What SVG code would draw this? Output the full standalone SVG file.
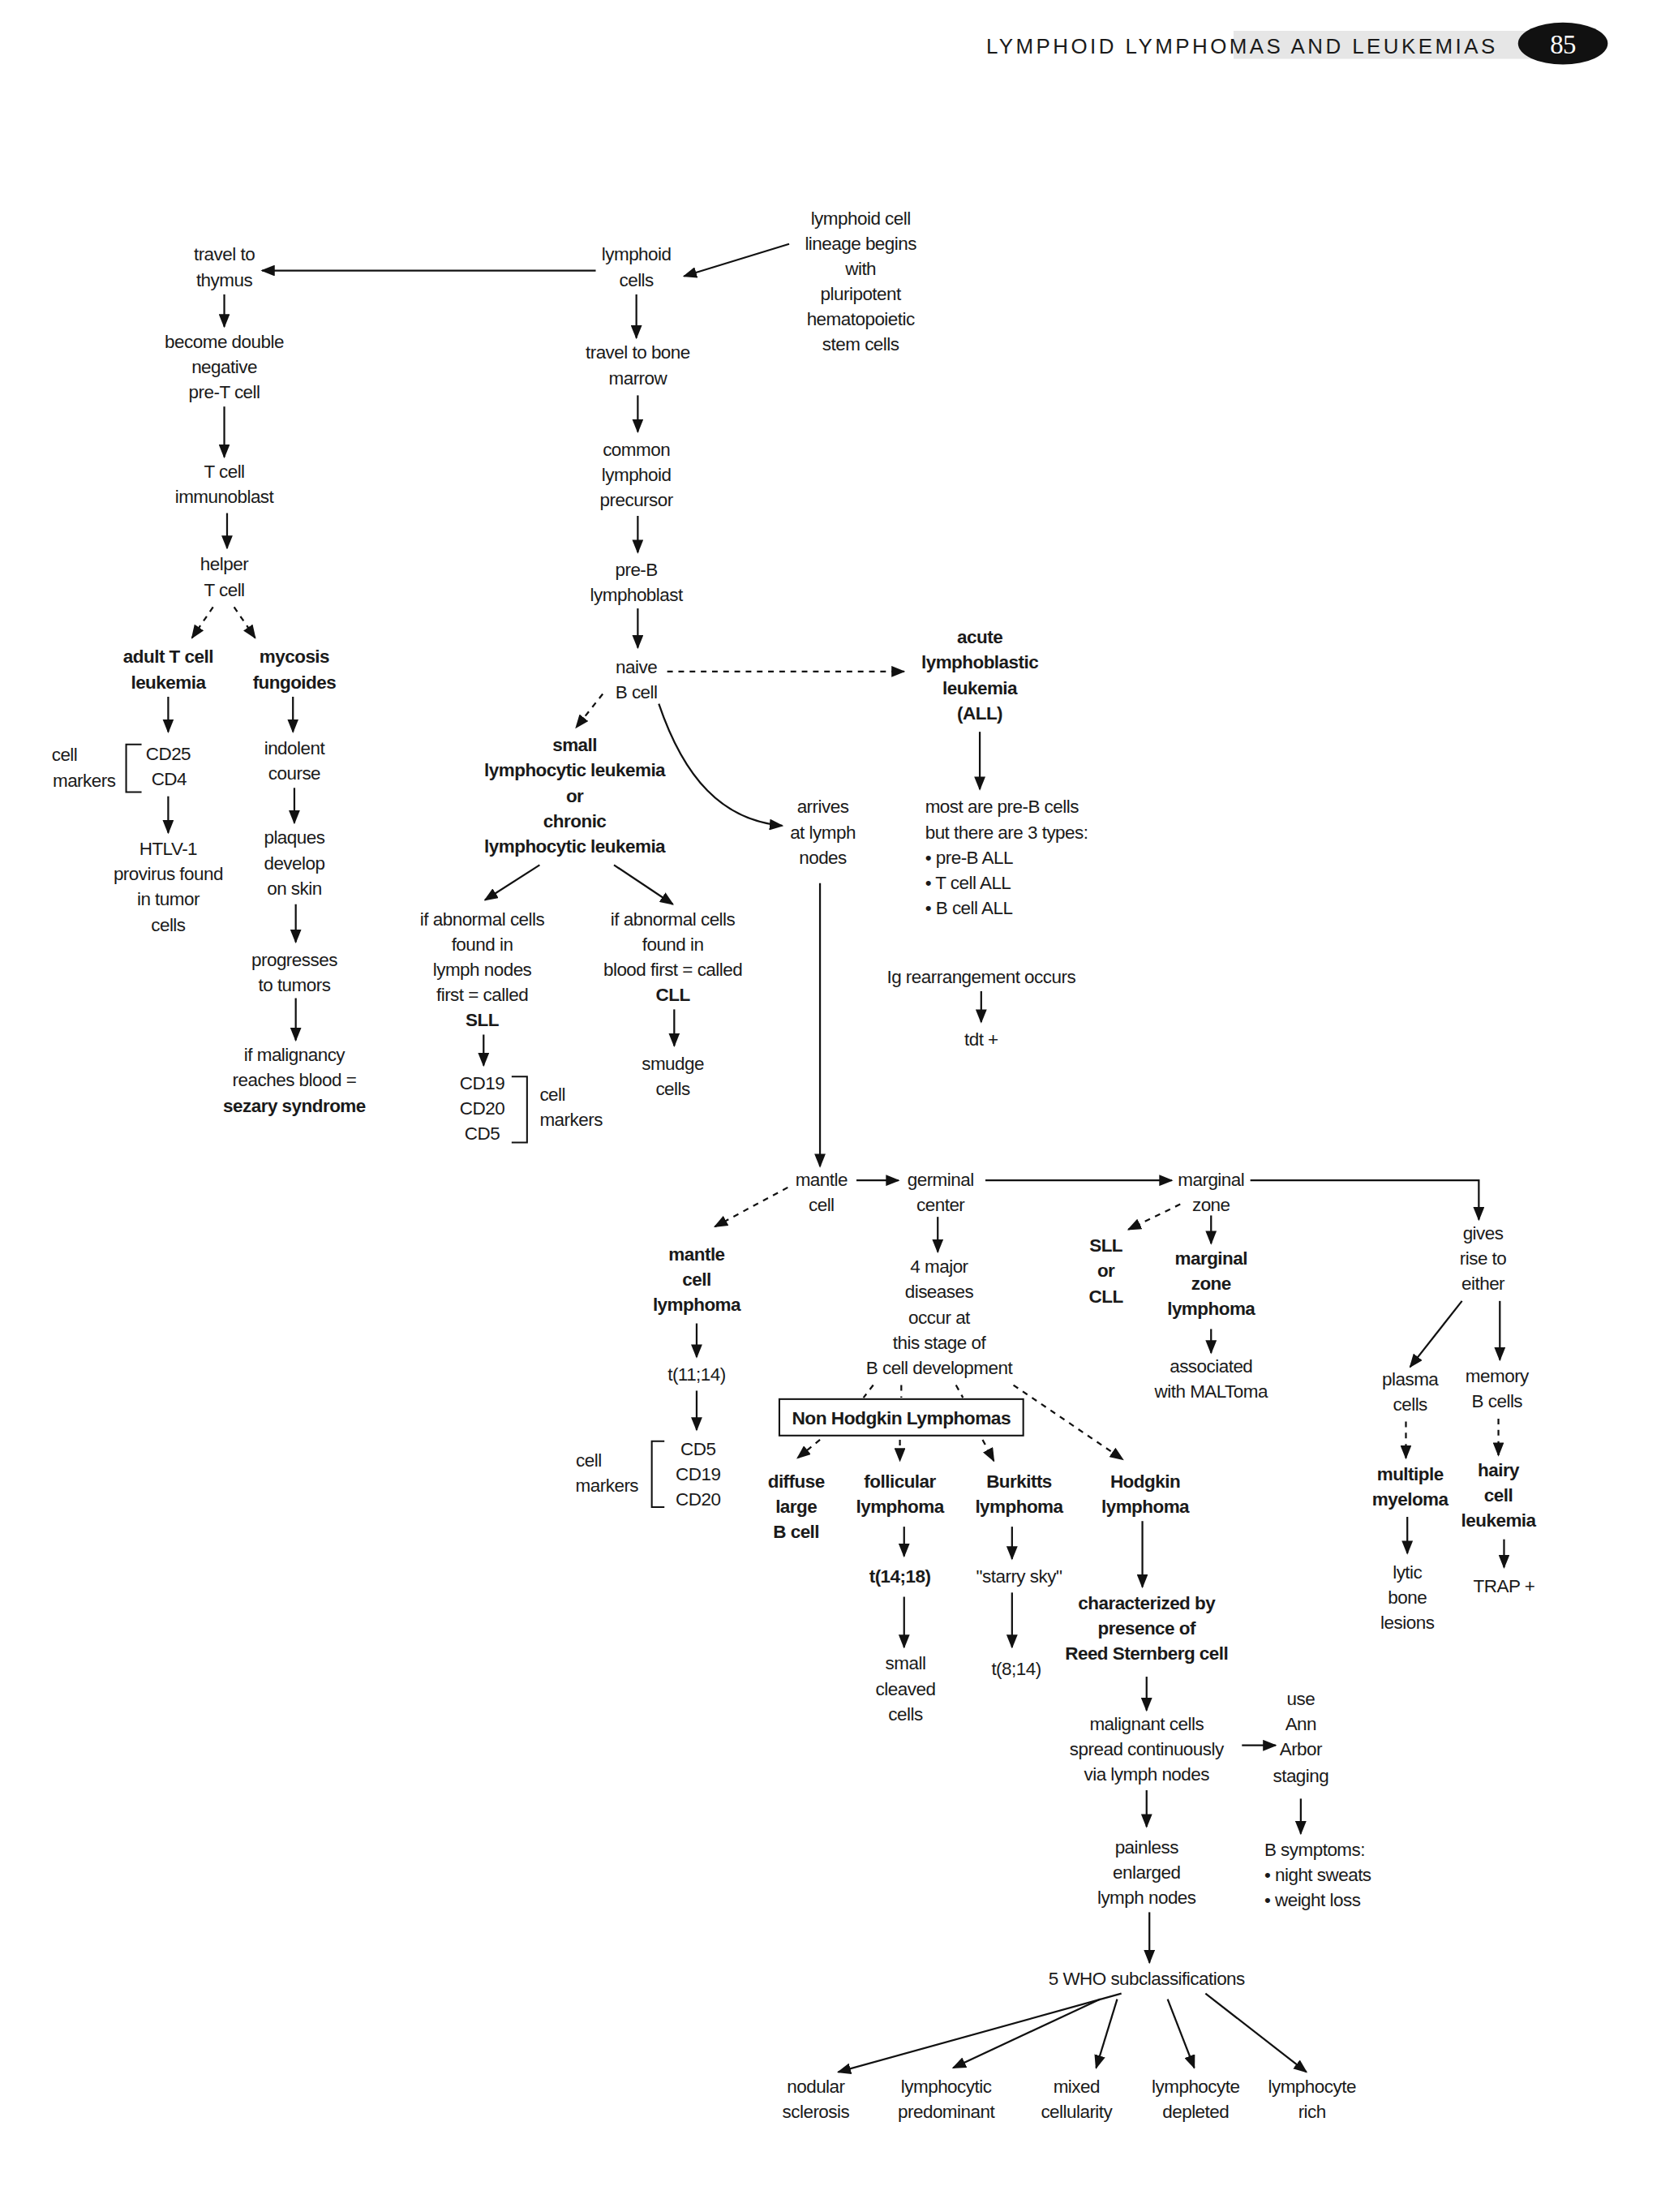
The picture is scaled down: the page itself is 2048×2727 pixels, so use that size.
<svg xmlns="http://www.w3.org/2000/svg" width="2048" height="2727" viewBox="0 0 2048 2727">
<style>
text{font-family:"Liberation Sans Narrow","Liberation Sans",Arial,sans-serif;font-size:13px;letter-spacing:-0.3px;fill:#1a1a1a;text-anchor:middle}
.b{font-weight:bold}
.l{text-anchor:start}
.r{text-anchor:end}
.c line,.c path,.c polyline{stroke:#111;stroke-width:1.3;fill:none;marker-end:url(#a)}
.c .d{stroke-dasharray:4 4}
.c .n{marker-end:none}
.br{stroke:#111;stroke-width:1.2;fill:none}
</style>
<defs><marker id="a" markerUnits="userSpaceOnUse" markerWidth="10" markerHeight="8" refX="9" refY="4" orient="auto"><path d="M0,0 L10,4 L0,8 z" fill="#111"/></marker></defs>
<rect width="2048" height="2727" fill="#fff"/>
<g transform="scale(1.7283)">
<g id="header">
<rect x="880" y="22" width="220" height="20" fill="#e6e6e6"/>
<text x="886" y="38" style="font-family:'Liberation Sans',sans-serif;font-size:15px;letter-spacing:2px">LYMPHOID LYMPHOMAS AND LEUKEMIAS</text>
<ellipse cx="1115" cy="31" rx="32" ry="15" fill="#111"/>
<text x="1115" y="38" style="fill:#fff;font-size:19px;font-family:'Liberation Serif',serif">85</text>
</g>
<g id="n_lineage"><text x="614" y="160">lymphoid cell</text><text x="614" y="178">lineage begins</text><text x="614" y="196">with</text><text x="614" y="214">pluripotent</text><text x="614" y="232">hematopoietic</text><text x="614" y="250">stem cells</text></g>
<g id="n_lymph"><text x="454" y="186">lymphoid</text><text x="454" y="204">cells</text></g>
<g id="n_thymus"><text x="160" y="186">travel to</text><text x="160" y="204">thymus</text></g>
<g id="n_bm"><text x="455" y="256">travel to bone</text><text x="455" y="274">marrow</text></g>
<g id="n_clp"><text x="454" y="325">common</text><text x="454" y="343">lymphoid</text><text x="454" y="361">precursor</text></g>
<g id="n_preb"><text x="454" y="411">pre-B</text><text x="454" y="429">lymphoblast</text></g>
<g id="n_naive"><text x="454" y="480">naive</text><text x="454" y="498">B cell</text></g>
<g id="n_all"><text class="b" x="699" y="459">acute</text><text class="b" x="699" y="477">lymphoblastic</text><text class="b" x="699" y="495">leukemia</text><text class="b" x="699" y="513">(ALL)</text></g>
<g id="n_types"><text class="l" x="660" y="580">most are pre-B cells</text><text class="l" x="660" y="598">but there are 3 types:</text><text class="l" x="660" y="616">• pre-B ALL</text><text class="l" x="660" y="634">• T cell ALL</text><text class="l" x="660" y="652">• B cell ALL</text></g>
<g id="n_ig"><text x="700" y="701">Ig rearrangement occurs</text></g>
<g id="n_tdt"><text x="700" y="746">tdt +</text></g>
<g id="n_sll"><text class="b" x="410" y="536">small</text><text class="b" x="410" y="554">lymphocytic leukemia</text><text class="b" x="410" y="572">or</text><text class="b" x="410" y="590">chronic</text><text class="b" x="410" y="608">lymphocytic leukemia</text></g>
<g id="n_ifsll"><text x="344" y="660">if abnormal cells</text><text x="344" y="678">found in</text><text x="344" y="696">lymph nodes</text><text x="344" y="714">first = called</text><text class="b" x="344" y="732">SLL</text></g>
<g id="n_ifcll"><text x="480" y="660">if abnormal cells</text><text x="480" y="678">found in</text><text x="480" y="696">blood first = called</text><text class="b" x="480" y="714">CLL</text></g>
<g id="n_cd19"><text x="344" y="777">CD19</text><text x="344" y="795">CD20</text><text x="344" y="813">CD5</text><polyline class="br" points="365,768 376,768 376,815 365,815"/><text class="l" x="385" y="785">cell</text><text class="l" x="385" y="803">markers</text></g>
<g id="n_smudge"><text x="480" y="763">smudge</text><text x="480" y="781">cells</text></g>
<g id="n_arrives"><text x="587" y="580">arrives</text><text x="587" y="598">at lymph</text><text x="587" y="616">nodes</text></g>
<g id="n_dn"><text x="160" y="248">become double</text><text x="160" y="266">negative</text><text x="160" y="284">pre-T cell</text></g>
<g id="n_tib"><text x="160" y="341">T cell</text><text x="160" y="359">immunoblast</text></g>
<g id="n_helper"><text x="160" y="407">helper</text><text x="160" y="425">T cell</text></g>
<g id="n_atl"><text class="b" x="120" y="473">adult T cell</text><text class="b" x="120" y="491">leukemia</text></g>
<g id="n_mf"><text class="b" x="210" y="473">mycosis</text><text class="b" x="210" y="491">fungoides</text></g>
<g id="n_cd25"><text x="46" y="543">cell</text><text x="60" y="561">markers</text><polyline class="br" points="101,531 90,531 90,565 101,565"/><text class="l" x="104" y="542">CD25</text><text class="l" x="108" y="560">CD4</text></g>
<g id="n_htlv"><text x="120" y="610">HTLV-1</text><text x="120" y="628">provirus found</text><text x="120" y="646">in tumor</text><text x="120" y="664">cells</text></g>
<g id="n_indolent"><text x="210" y="538">indolent</text><text x="210" y="556">course</text></g>
<g id="n_plaques"><text x="210" y="602">plaques</text><text x="210" y="620">develop</text><text x="210" y="638">on skin</text></g>
<g id="n_prog"><text x="210" y="689">progresses</text><text x="210" y="707">to tumors</text></g>
<g id="n_sezary"><text x="210" y="757">if malignancy</text><text x="210" y="775">reaches blood =</text><text class="b" x="210" y="793">sezary syndrome</text></g>
<g id="n_mantle"><text x="586" y="846">mantle</text><text x="586" y="864">cell</text></g>
<g id="n_germ"><text x="671" y="846">germinal</text><text x="671" y="864">center</text></g>
<g id="n_marg"><text x="864" y="846">marginal</text><text x="864" y="864">zone</text></g>
<g id="n_gives"><text x="1058" y="884">gives</text><text x="1058" y="902">rise to</text><text x="1058" y="920">either</text></g>
<g id="n_mcl"><text class="b" x="497" y="899">mantle</text><text class="b" x="497" y="917">cell</text><text class="b" x="497" y="935">lymphoma</text></g>
<g id="n_t1114"><text x="497" y="985">t(11;14)</text></g>
<g id="n_cd5"><text x="420" y="1046">cell</text><text x="433" y="1064">markers</text><polyline class="br" points="474,1028 465,1028 465,1075 474,1075"/><text x="498" y="1038">CD5</text><text x="498" y="1056">CD19</text><text x="498" y="1074">CD20</text></g>
<g id="n_4major"><text x="670" y="908">4 major</text><text x="670" y="926">diseases</text><text x="670" y="944">occur at</text><text x="670" y="962">this stage of</text><text x="670" y="980">B cell development</text></g>
<g id="n_nhl"><rect x="556" y="998" width="174" height="26" fill="#fff" stroke="#111" stroke-width="1.2"/><text class="b" x="643" y="1016" textLength="156" lengthAdjust="spacingAndGlyphs">Non Hodgkin Lymphomas</text></g>
<g id="n_dlbc"><text class="b" x="568" y="1061">diffuse</text><text class="b" x="568" y="1079">large</text><text class="b" x="568" y="1097">B cell</text></g>
<g id="n_foll"><text class="b" x="642" y="1061">follicular</text><text class="b" x="642" y="1079">lymphoma</text></g>
<g id="n_burk"><text class="b" x="727" y="1061">Burkitts</text><text class="b" x="727" y="1079">lymphoma</text></g>
<g id="n_hodg"><text class="b" x="817" y="1061">Hodgkin</text><text class="b" x="817" y="1079">lymphoma</text></g>
<g id="n_t1418"><text class="b" x="642" y="1129">t(14;18)</text></g>
<g id="n_small"><text x="646" y="1191">small</text><text x="646" y="1209">cleaved</text><text x="646" y="1227">cells</text></g>
<g id="n_starry"><text x="727" y="1129">"starry sky"</text></g>
<g id="n_t814"><text x="725" y="1195">t(8;14)</text></g>
<g id="n_reed"><text class="b" x="818" y="1148">characterized by</text><text class="b" x="818" y="1166">presence of</text><text class="b" x="818" y="1184">Reed Sternberg cell</text></g>
<g id="n_malig"><text x="818" y="1234">malignant cells</text><text x="818" y="1252">spread continuously</text><text x="818" y="1270">via lymph nodes</text></g>
<g id="n_ann"><text x="928" y="1216">use</text><text x="928" y="1234">Ann</text><text x="928" y="1252">Arbor</text><text x="928" y="1271">staging</text></g>
<g id="n_bsym"><text class="l" x="902" y="1324">B symptoms:</text><text class="l" x="902" y="1342">• night sweats</text><text class="l" x="902" y="1360">• weight loss</text></g>
<g id="n_painless"><text x="818" y="1322">painless</text><text x="818" y="1340">enlarged</text><text x="818" y="1358">lymph nodes</text></g>
<g id="n_who"><text x="818" y="1416">5 WHO subclassifications</text></g>
<g id="n_ns"><text x="582" y="1493">nodular</text><text x="582" y="1511">sclerosis</text></g>
<g id="n_lp"><text x="675" y="1493">lymphocytic</text><text x="675" y="1511">predominant</text></g>
<g id="n_mc"><text x="768" y="1493">mixed</text><text x="768" y="1511">cellularity</text></g>
<g id="n_ld"><text x="853" y="1493">lymphocyte</text><text x="853" y="1511">depleted</text></g>
<g id="n_lr"><text x="936" y="1493">lymphocyte</text><text x="936" y="1511">rich</text></g>
<g id="n_sllcll"><text class="b" x="789" y="893">SLL</text><text class="b" x="789" y="911">or</text><text class="b" x="789" y="929">CLL</text></g>
<g id="n_mzl"><text class="b" x="864" y="902">marginal</text><text class="b" x="864" y="920">zone</text><text class="b" x="864" y="938">lymphoma</text></g>
<g id="n_malt"><text x="864" y="979">associated</text><text x="864" y="997">with MALToma</text></g>
<g id="n_plasma"><text x="1006" y="988">plasma</text><text x="1006" y="1006">cells</text></g>
<g id="n_memory"><text x="1068" y="986">memory</text><text x="1068" y="1004">B cells</text></g>
<g id="n_mm"><text class="b" x="1006" y="1056">multiple</text><text class="b" x="1006" y="1074">myeloma</text></g>
<g id="n_hcl"><text class="b" x="1069" y="1053">hairy</text><text class="b" x="1069" y="1071">cell</text><text class="b" x="1069" y="1089">leukemia</text></g>
<g id="n_lytic"><text x="1004" y="1126">lytic</text><text x="1004" y="1144">bone</text><text x="1004" y="1162">lesions</text></g>
<g id="n_trap"><text x="1073" y="1136">TRAP +</text></g>
<g id="connectors" class="c">
<line x1="563" y1="174" x2="488" y2="197"/>
<line x1="425" y1="193" x2="187" y2="193"/>
<line x1="454" y1="210" x2="454" y2="241"/>
<line x1="455" y1="282" x2="455" y2="308"/>
<line x1="455" y1="368" x2="455" y2="394"/>
<line x1="455" y1="434" x2="455" y2="462"/>
<line class="d" x1="476" y1="479" x2="645" y2="479"/>
<line x1="699" y1="522" x2="699" y2="563"/>
<line x1="700" y1="707" x2="700" y2="729"/>
<line class="d" x1="430" y1="495" x2="411" y2="519"/>
<path d="M470 502 C 488 555, 515 585, 558 589"/>
<line x1="385" y1="617" x2="346" y2="642"/>
<line x1="438" y1="617" x2="480" y2="645"/>
<line x1="345" y1="738" x2="345" y2="760"/>
<line x1="481" y1="720" x2="481" y2="746"/>
<line x1="585" y1="630" x2="585" y2="832"/>
<line x1="160" y1="210" x2="160" y2="233"/>
<line x1="160" y1="290" x2="160" y2="326"/>
<line x1="162" y1="366" x2="162" y2="391"/>
<line class="d" x1="152" y1="433" x2="137" y2="455"/>
<line class="d" x1="167" y1="433" x2="182" y2="455"/>
<line x1="120" y1="497" x2="120" y2="522"/>
<line x1="120" y1="568" x2="120" y2="594"/>
<line x1="209" y1="497" x2="209" y2="522"/>
<line x1="210" y1="562" x2="210" y2="587"/>
<line x1="211" y1="645" x2="211" y2="672"/>
<line x1="211" y1="712" x2="211" y2="742"/>
<line x1="611" y1="842" x2="641" y2="842"/>
<line x1="703" y1="842" x2="836" y2="842"/>
<polyline points="892,842 1055,842 1055,870"/>
<line class="d" x1="562" y1="847" x2="510" y2="875"/>
<line x1="497" y1="944" x2="497" y2="968"/>
<line x1="497" y1="992" x2="497" y2="1020"/>
<line x1="669" y1="868" x2="669" y2="893"/>
<line class="d n" x1="623" y1="988" x2="616" y2="997"/>
<line class="d n" x1="643" y1="988" x2="643" y2="997"/>
<line class="d n" x1="682" y1="988" x2="687" y2="997"/>
<line class="d" x1="723" y1="988" x2="801" y2="1041"/>
<line class="d" x1="585" y1="1027" x2="569" y2="1040"/>
<line class="d" x1="642" y1="1027" x2="642" y2="1042"/>
<line class="d" x1="701" y1="1027" x2="709" y2="1042"/>
<line x1="645" y1="1089" x2="645" y2="1110"/>
<line x1="645" y1="1139" x2="645" y2="1175"/>
<line x1="722" y1="1089" x2="722" y2="1112"/>
<line x1="722" y1="1136" x2="722" y2="1175"/>
<line x1="815" y1="1085" x2="815" y2="1132"/>
<line x1="818" y1="1196" x2="818" y2="1220"/>
<line x1="886" y1="1245" x2="910" y2="1245"/>
<line x1="928" y1="1283" x2="928" y2="1308"/>
<line x1="818" y1="1277" x2="818" y2="1303"/>
<line x1="820" y1="1364" x2="820" y2="1400"/>
<line x1="800" y1="1422" x2="598" y2="1478"/>
<line x1="785" y1="1426" x2="680" y2="1475"/>
<line x1="797" y1="1426" x2="782" y2="1475"/>
<line x1="833" y1="1426" x2="852" y2="1475"/>
<line x1="860" y1="1422" x2="932" y2="1478"/>
<line class="d" x1="842" y1="859" x2="805" y2="877"/>
<line x1="864" y1="867" x2="864" y2="887"/>
<line x1="864" y1="948" x2="864" y2="965"/>
<line x1="1043" y1="928" x2="1006" y2="975"/>
<line x1="1070" y1="928" x2="1070" y2="970"/>
<line class="d" x1="1003" y1="1014" x2="1003" y2="1040"/>
<line class="d" x1="1069" y1="1012" x2="1069" y2="1038"/>
<line x1="1004" y1="1082" x2="1004" y2="1108"/>
<line x1="1073" y1="1098" x2="1073" y2="1118"/>
</g>
</g>
</svg>
